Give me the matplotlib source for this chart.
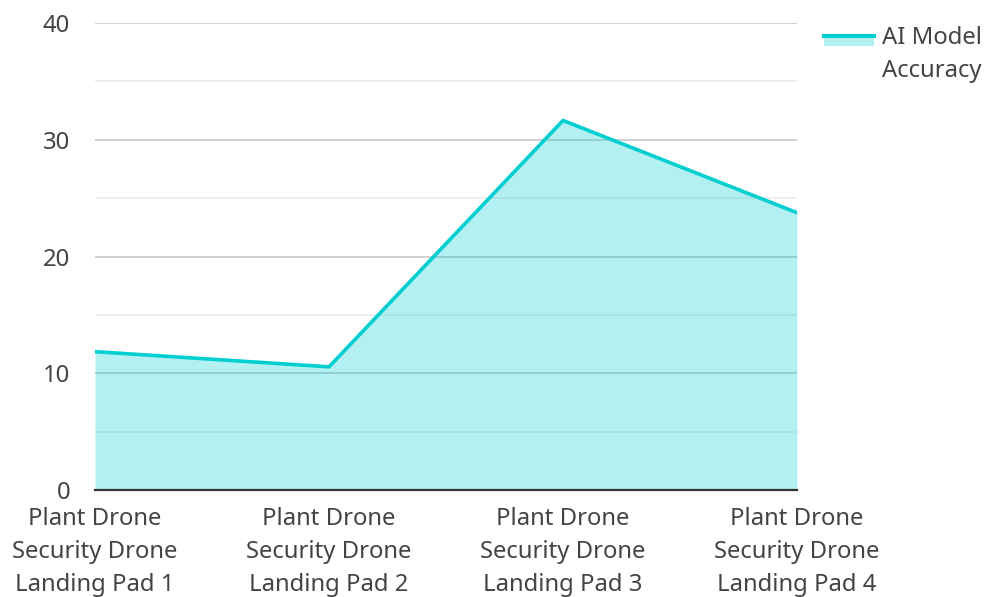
import matplotlib
matplotlib.use("Agg")
import matplotlib.pyplot as plt
from matplotlib.legend_handler import HandlerBase
from matplotlib.patches import Rectangle, Patch
from matplotlib.lines import Line2D

plt.rcParams['font.family'] = ['Noto Sans', 'DejaVu Sans']

categories = [
    "Plant Drone\nSecurity Drone\nLanding Pad 1",
    "Plant Drone\nSecurity Drone\nLanding Pad 2",
    "Plant Drone\nSecurity Drone\nLanding Pad 3",
    "Plant Drone\nSecurity Drone\nLanding Pad 4",
]
accuracy = [11.85, 10.55, 31.65, 23.75]
series_name = "AI Model\nAccuracy"

line_color = "#00CED1"
text_color = "#444444"
fsize = 17.2


class FillLineHandler(HandlerBase):
    # legend sample: filled box with the line on its top edge,
    # lifted so it sits next to the first text line
    def create_artists(self, legend, orig_handle, xdescent, ydescent,
                       width, height, fontsize, trans):
        x0 = -xdescent
        top = -ydescent + 0.7 * height + 0.68 * fontsize
        box = Rectangle((x0, top - 0.65 * height), width, 0.65 * height,
                        facecolor=line_color, alpha=0.3, edgecolor="none",
                        transform=trans)
        ln = Line2D([x0, x0 + width], [top, top],
                    color=line_color, lw=3, transform=trans)
        return [box, ln]


fig = plt.figure(figsize=(9.87, 5.97), dpi=100)
ax = fig.add_axes([0.0963, 0.1792, 0.7112, 0.7823])

x = list(range(len(categories)))
ax.fill_between(x, accuracy, 0, color=line_color, alpha=0.3, lw=0, zorder=2)
ax.plot(x, accuracy, color=line_color, lw=2.6, zorder=3)

ax.set_xlim(0, len(categories) - 1)
ax.set_ylim(0, 40)
ax.set_yticks([0, 10, 20, 30, 40])
ax.set_yticks([5, 15, 25, 35], minor=True)
ax.set_xticks(x)
ax.set_xticklabels(categories, linespacing=1.5)

ax.grid(axis="y", which="major", color="#c8c8c8", lw=1.2, zorder=1)
ax.grid(axis="y", which="minor", color="#ebebeb", lw=1.2, zorder=1)
ax.set_axisbelow(True)

for side in ["top", "right", "left"]:
    ax.spines[side].set_visible(False)
ax.spines["bottom"].set_color("#333333")
ax.spines["bottom"].set_linewidth(1.6)
ax.spines["bottom"].set_zorder(4)

ax.tick_params(axis="both", which="both", length=0, labelsize=fsize,
               labelcolor=text_color)
ax.tick_params(axis="y", pad=18)
ax.tick_params(axis="x", pad=12)

leg = ax.legend([Patch()], [series_name], handler_map={Patch: FillLineHandler()},
                loc="upper left", bbox_to_anchor=(1.025, 1.013), frameon=False,
                fontsize=fsize, handlelength=2.1, handletextpad=0.32,
                borderaxespad=0)
for t in leg.get_texts():
    t.set_color(text_color)
    t.set_linespacing(1.45)

fig.savefig("out.png", dpi=100)
